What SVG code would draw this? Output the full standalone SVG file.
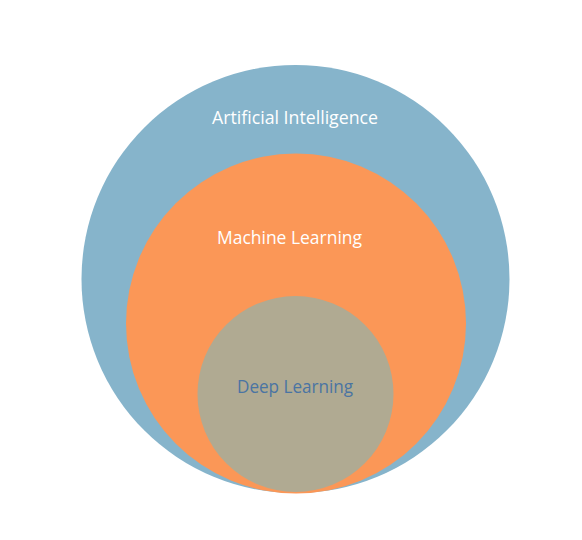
<svg xmlns="http://www.w3.org/2000/svg" width="582" height="540" viewBox="0 0 582 540">
<style>
text{font-family:"Open Sans","Noto Sans","Liberation Sans",sans-serif;font-size:17.5px;text-anchor:middle}
.w{fill:#ffffff}
.b{fill:#4a74a3}
</style>
<rect width="582" height="540" fill="#ffffff"/>
<g id="ai">
<circle cx="295.5" cy="279" r="214" fill="#86b4cb"/>
<text class="w" x="295" y="124" textLength="166" lengthAdjust="spacingAndGlyphs">Artificial Intelligence</text>
</g>
<g id="ml">
<circle cx="296" cy="323.5" r="170" fill="#fb9757"/>
<text class="w" x="289.5" y="244" textLength="145" lengthAdjust="spacingAndGlyphs">Machine Learning</text>
</g>
<g id="dl">
<circle cx="295.5" cy="394" r="98" fill="#b0aa92"/>
<text class="b" x="295" y="393" textLength="116" lengthAdjust="spacingAndGlyphs">Deep Learning</text>
</g>
<g id="connectors"></g>
</svg>
